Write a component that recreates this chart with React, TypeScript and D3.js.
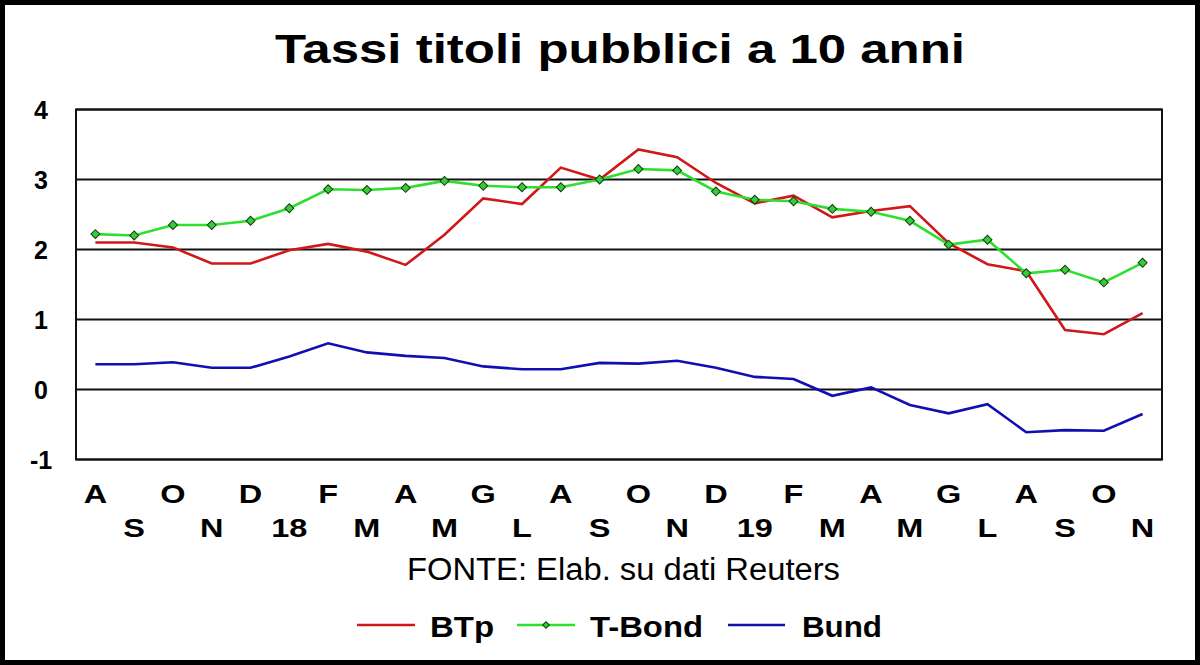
import React from 'react';
import * as d3 from 'd3';

// months Aug 2017 -> Nov 2019
const months = ['A', 'S', 'O', 'N', 'D', '18', 'F', 'M', 'A', 'M', 'G', 'L', 'A', 'S', 'O', 'N', 'D', '19', 'F', 'M', 'A', 'M', 'G', 'L', 'A', 'S', 'O', 'N'];

const btp = [2.10, 2.10, 2.03, 1.80, 1.80, 1.99, 2.08, 1.97, 1.78, 2.21, 2.73, 2.65, 3.17, 3.00, 3.43, 3.32, 2.95, 2.66, 2.77, 2.46, 2.55, 2.62, 2.09, 1.79, 1.69, 0.85, 0.79, 1.09];
const tbond = [2.22, 2.20, 2.35, 2.35, 2.41, 2.59, 2.86, 2.85, 2.88, 2.98, 2.91, 2.89, 2.89, 3.00, 3.15, 3.13, 2.83, 2.71, 2.69, 2.58, 2.54, 2.41, 2.07, 2.14, 1.66, 1.71, 1.53, 1.81];
const bund = [0.36, 0.36, 0.39, 0.31, 0.31, 0.47, 0.66, 0.53, 0.48, 0.45, 0.33, 0.29, 0.29, 0.38, 0.37, 0.41, 0.31, 0.18, 0.15, -0.09, 0.03, -0.22, -0.34, -0.21, -0.61, -0.58, -0.59, -0.35];

const yTicks = [4, 3, 2, 1, 0, -1];

const W = 1200, H = 665;
const plot = { left: 76, right: 1162, top: 109.5, bottom: 459.5 };

const font = '"Liberation Sans", Arial, sans-serif';

export default function App() {
  const x = d3.scalePoint<number>()
    .domain(d3.range(months.length))
    .range([plot.left, plot.right])
    .padding(0.5);

  const y = d3.scaleLinear()
    .domain([-1, 4])
    .range([plot.bottom, plot.top]);

  const line = d3.line<number>()
    .x((d, i) => x(i)!)
    .y(d => y(d));

  const diamond = d3.symbol().type(d3.symbolSquare).size(40)();

  const series = [
    { name: 'BTp', data: btp, color: '#d01818', marker: false },
    { name: 'T-Bond', data: tbond, color: '#2ee02e', marker: true },
    { name: 'Bund', data: bund, color: '#1010b0', marker: false },
  ];

  const legend = [
    { name: 'BTp', color: '#d01818', x1: 357, x2: 415, tx: 430, tw: 64, marker: false },
    { name: 'T-Bond', color: '#2ee02e', x1: 517, x2: 575, tx: 590, tw: 113, marker: true },
    { name: 'Bund', color: '#1010b0', x1: 728, x2: 785, tx: 802, tw: 80, marker: false },
  ];

  return (
    <svg width={W} height={H} style={{ position: 'absolute', left: 0, top: 0, background: '#fff' }}
         fontFamily={font}>
      <rect x={2.5} y={2.5} width={W - 5} height={H - 5} fill="#fff" stroke="#000" strokeWidth={5} />

      <text x={275} y={63} fontSize={41} fontWeight="bold" textLength={690}
            lengthAdjust="spacingAndGlyphs">Tassi titoli pubblici a 10 anni</text>

      {/* grid + y labels */}
      {yTicks.map(t => (
        <g key={t}>
          <line x1={plot.left} x2={plot.right} y1={y(t)} y2={y(t)} stroke="#111" strokeWidth={2} />
          <text x={41} y={y(t) + 9} fontSize={25} fontWeight="bold" textAnchor="middle">{t}</text>
        </g>
      ))}
      <rect x={plot.left} y={plot.top} width={plot.right - plot.left} height={plot.bottom - plot.top}
            fill="none" stroke="#111" strokeWidth={2} />

      {/* x labels, staggered on two rows */}
      {months.map((m, i) => (
        <text key={i} transform={`translate(${x(i)},${i % 2 === 0 ? 503 : 537}) scale(1.3,1)`}
              fontSize={25} fontWeight="bold" textAnchor="middle">{m}</text>
      ))}

      {series.map(s => (
        <g key={s.name}>
          <path d={line(s.data)!} fill="none" stroke={s.color} strokeWidth={2.6} />
          {s.marker && s.data.map((d, i) => (
            <path key={i} d={diamond} transform={`translate(${x(i)},${y(d)}) rotate(45)`}
                  fill="#3cc83c" stroke="#0a400a" strokeWidth={1} />
          ))}
        </g>
      ))}

      <text x={407} y={580} fontSize={31} textLength={433} lengthAdjust="spacingAndGlyphs">
        FONTE: Elab. su dati Reuters
      </text>

      {legend.map(l => (
        <g key={l.name}>
          <line x1={l.x1} x2={l.x2} y1={625} y2={625} stroke={l.color} strokeWidth={2.6} />
          {l.marker && (
            <path d={d3.symbol().type(d3.symbolSquare).size(22)()!}
                  transform={`translate(${(l.x1 + l.x2) / 2},625) rotate(45)`}
                  fill="#3cc83c" stroke="#0a400a" strokeWidth={1} />
          )}
          <text x={l.tx} y={637} fontSize={29} fontWeight="bold" textLength={l.tw}
                lengthAdjust="spacingAndGlyphs">{l.name}</text>
        </g>
      ))}
    </svg>
  );
}
